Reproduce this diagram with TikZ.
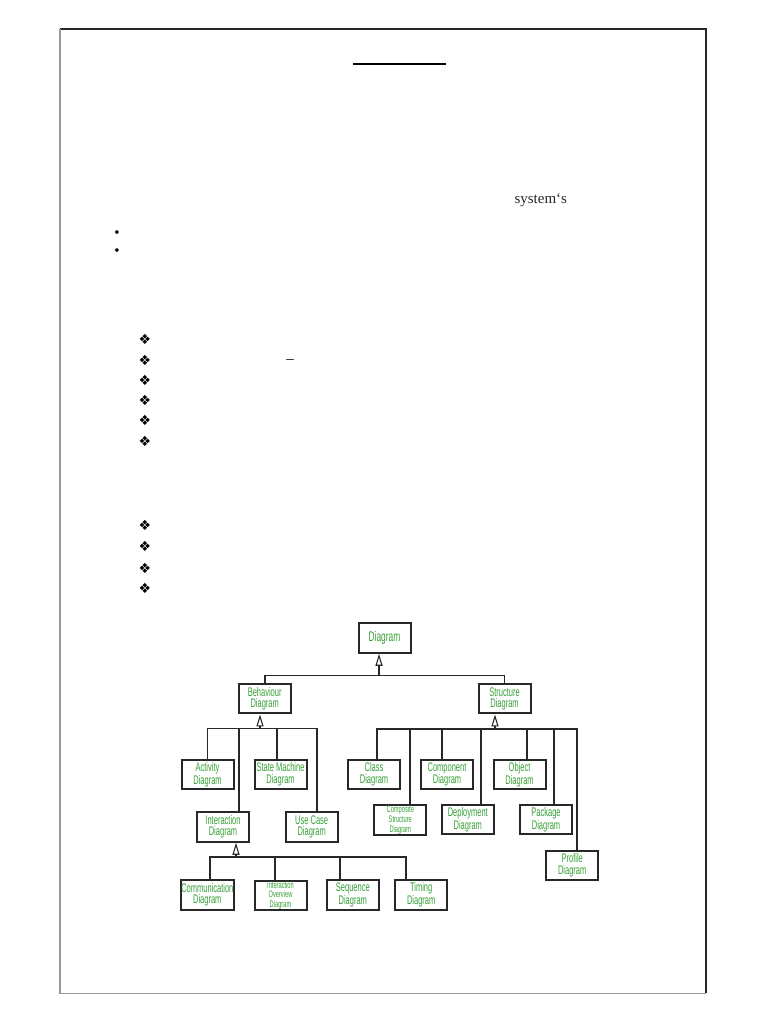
\documentclass[tikz,border=0pt]{standalone}
\usepackage{fontspec}
\setmainfont{Liberation Serif}
\newfontfamily\diafont[FakeStretch=0.6]{Liberation Sans}
\newfontfamily\symfont{DejaVu Sans}
\usetikzlibrary{arrows.meta}
\definecolor{umlgreen}{RGB}{55,160,55}
\definecolor{boxline}{RGB}{40,40,40}

\begin{document}
\begin{tikzpicture}[x=1pt,y=-1pt,
	umlbox/.style={draw=boxline, line width=2pt, minimum width=52pt, minimum height=29.5pt, inner sep=0.5pt, align=center, text=umlgreen, font=\diafont\fontsize{12.5}{11.5}\selectfont},
	topbox/.style={umlbox, font=\diafont\fontsize{14}{13}\selectfont},
	smallbox/.style={umlbox, font=\diafont\fontsize{9.5}{9.7}\selectfont},
	link/.style={draw=boxline, line width=1.6pt},
	gen/.style={draw=boxline, line width=1.1pt, -{Triangle[open, length=12pt, width=7pt]}},
	diam/.style={font=\symfont\fontsize{14}{14}\selectfont}]
	
	\useasboundingbox (0,0) rectangle (768,1024);
	
	% page frame
	\draw[line width = 1.2pt, black!85] (60,29) -- (706,29) -- (706,993.3);
	\draw[line width = 1.6pt, black!40] (60,29) -- (60,993.3) -- (706,993.3);
	
	% title rule
	\draw[line width = 2pt] (353.3,63.7) -- (446,63.7);
	
	\node[anchor=base west, font=\fontsize{15}{17}\selectfont, text=black!85] (systems) at (511,204) {system‘s};
	
	\node[font=\fontsize{15}{15}\selectfont] (bul1) at (117,234) {•};
	\node[font=\fontsize{15}{15}\selectfont] (bul2) at (117,252) {•};
	
	\node[diam] (dm1) at (145,339) {❖};
	\node[diam] (dm2) at (145,360) {❖};
	\node[diam] (dm3) at (145,380.3) {❖};
	\node[diam] (dm4) at (145,400.7) {❖};
	\node[diam] (dm5) at (145,420.3) {❖};
	\node[diam] (dm6) at (145,441) {❖};
	\node[diam] (dm7) at (145,525.7) {❖};
	\node[diam] (dm8) at (145,546.7) {❖};
	\node[diam] (dm9) at (145,568) {❖};
	\node[diam] (dm10) at (145,588.7) {❖};
	
	\node[font=\fontsize{15}{15}\selectfont] (endash) at (290,362) {–};
	
	% diagram boxes
	\node[topbox] (diagram) at (384.5,638) {Diagram};
	\node[umlbox] (behaviour) at (264.7,698.7) {Behaviour\\Diagram};
	\node[umlbox] (structure) at (504.5,698.7) {Structure\\Diagram};
	
	\node[umlbox] (activity) at (207.5,774.5) {Activity\\Diagram};
	\node[umlbox] (statemachine) at (280.5,774.5) {State Machine\\Diagram};
	\node[umlbox] (interaction) at (223,827) {Interaction\\Diagram};
	\node[umlbox] (usecase) at (311.7,827) {Use Case\\Diagram};
	
	\node[umlbox] (class) at (374,774.5) {Class\\Diagram};
	\node[umlbox] (component) at (447,774.5) {Component\\Diagram};
	\node[umlbox] (object) at (519.5,774.5) {Object\\Diagram};
	\node[smallbox] (composite) at (400.3,820) {Composite\\Structure\\Diagram};
	\node[umlbox] (deployment) at (467.8,819.5) {Deployment\\Diagram};
	\node[umlbox] (package) at (546,819.5) {Package\\Diagram};
	\node[umlbox] (profile) at (572.2,865.3) {Profile\\Diagram};
	
	\node[umlbox] (communication) at (207.3,895) {Communication\\Diagram};
	\node[smallbox] (overview) at (280.5,895.5) {Interaction\\Overview\\Diagram};
	\node[umlbox] (sequence) at (352.8,895) {Sequence\\Diagram};
	\node[umlbox] (timing) at (421.2,895) {Timing\\Diagram};
	
	% top level
	\coordinate (topbus) at (379,675.5);
	\draw[gen] (topbus) -- (topbus |- diagram.south);
	\draw[link] (behaviour.north) |- (topbus) -| (structure.north);
	
	% behaviour
	\coordinate (behbus) at (260,728.5);
	\coordinate (b-int) at (239,728.5);
	\coordinate (b-sm) at (277,728.5);
	\coordinate (b-uc) at (317,728.5);
	\draw[gen] (behbus) -- (behbus |- behaviour.south);
	\draw[link] (activity.north) |- (b-uc) -- (b-uc |- usecase.north);
	\draw[link] (b-int) -- (b-int |- interaction.north);
	\draw[link] (b-sm) -- (b-sm |- statemachine.north);
	
	% structure
	\coordinate (strbus) at (495,729);
	\coordinate (s-cl) at (377,729);
	\coordinate (s-cs) at (410,729);
	\coordinate (s-co) at (442,729);
	\coordinate (s-de) at (481,729);
	\coordinate (s-ob) at (527,729);
	\coordinate (s-pa) at (554,729);
	\coordinate (s-pr) at (577,729);
	\draw[gen] (strbus) -- (strbus |- structure.south);
	\draw[link] (s-cl |- class.north) -- (s-cl) -- (s-pr) -- (s-pr |- profile.north);
	\draw[link] (s-cs) -- (s-cs |- composite.north);
	\draw[link] (s-co) -- (s-co |- component.north);
	\draw[link] (s-de) -- (s-de |- deployment.north);
	\draw[link] (s-ob) -- (s-ob |- object.north);
	\draw[link] (s-pa) -- (s-pa |- package.north);
	
	% interaction
	\coordinate (intbus) at (236,857);
	\coordinate (i-com) at (210,857);
	\coordinate (i-ov) at (275,857);
	\coordinate (i-seq) at (340,857);
	\coordinate (i-tim) at (406,857);
	\draw[gen] (intbus) -- (intbus |- interaction.south);
	\draw[link] (i-com |- communication.north) -- (i-com) -- (i-tim) -- (i-tim |- timing.north);
	\draw[link] (i-ov) -- (i-ov |- overview.north);
	\draw[link] (i-seq) -- (i-seq |- sequence.north);
	
\end{tikzpicture}
\end{document}
